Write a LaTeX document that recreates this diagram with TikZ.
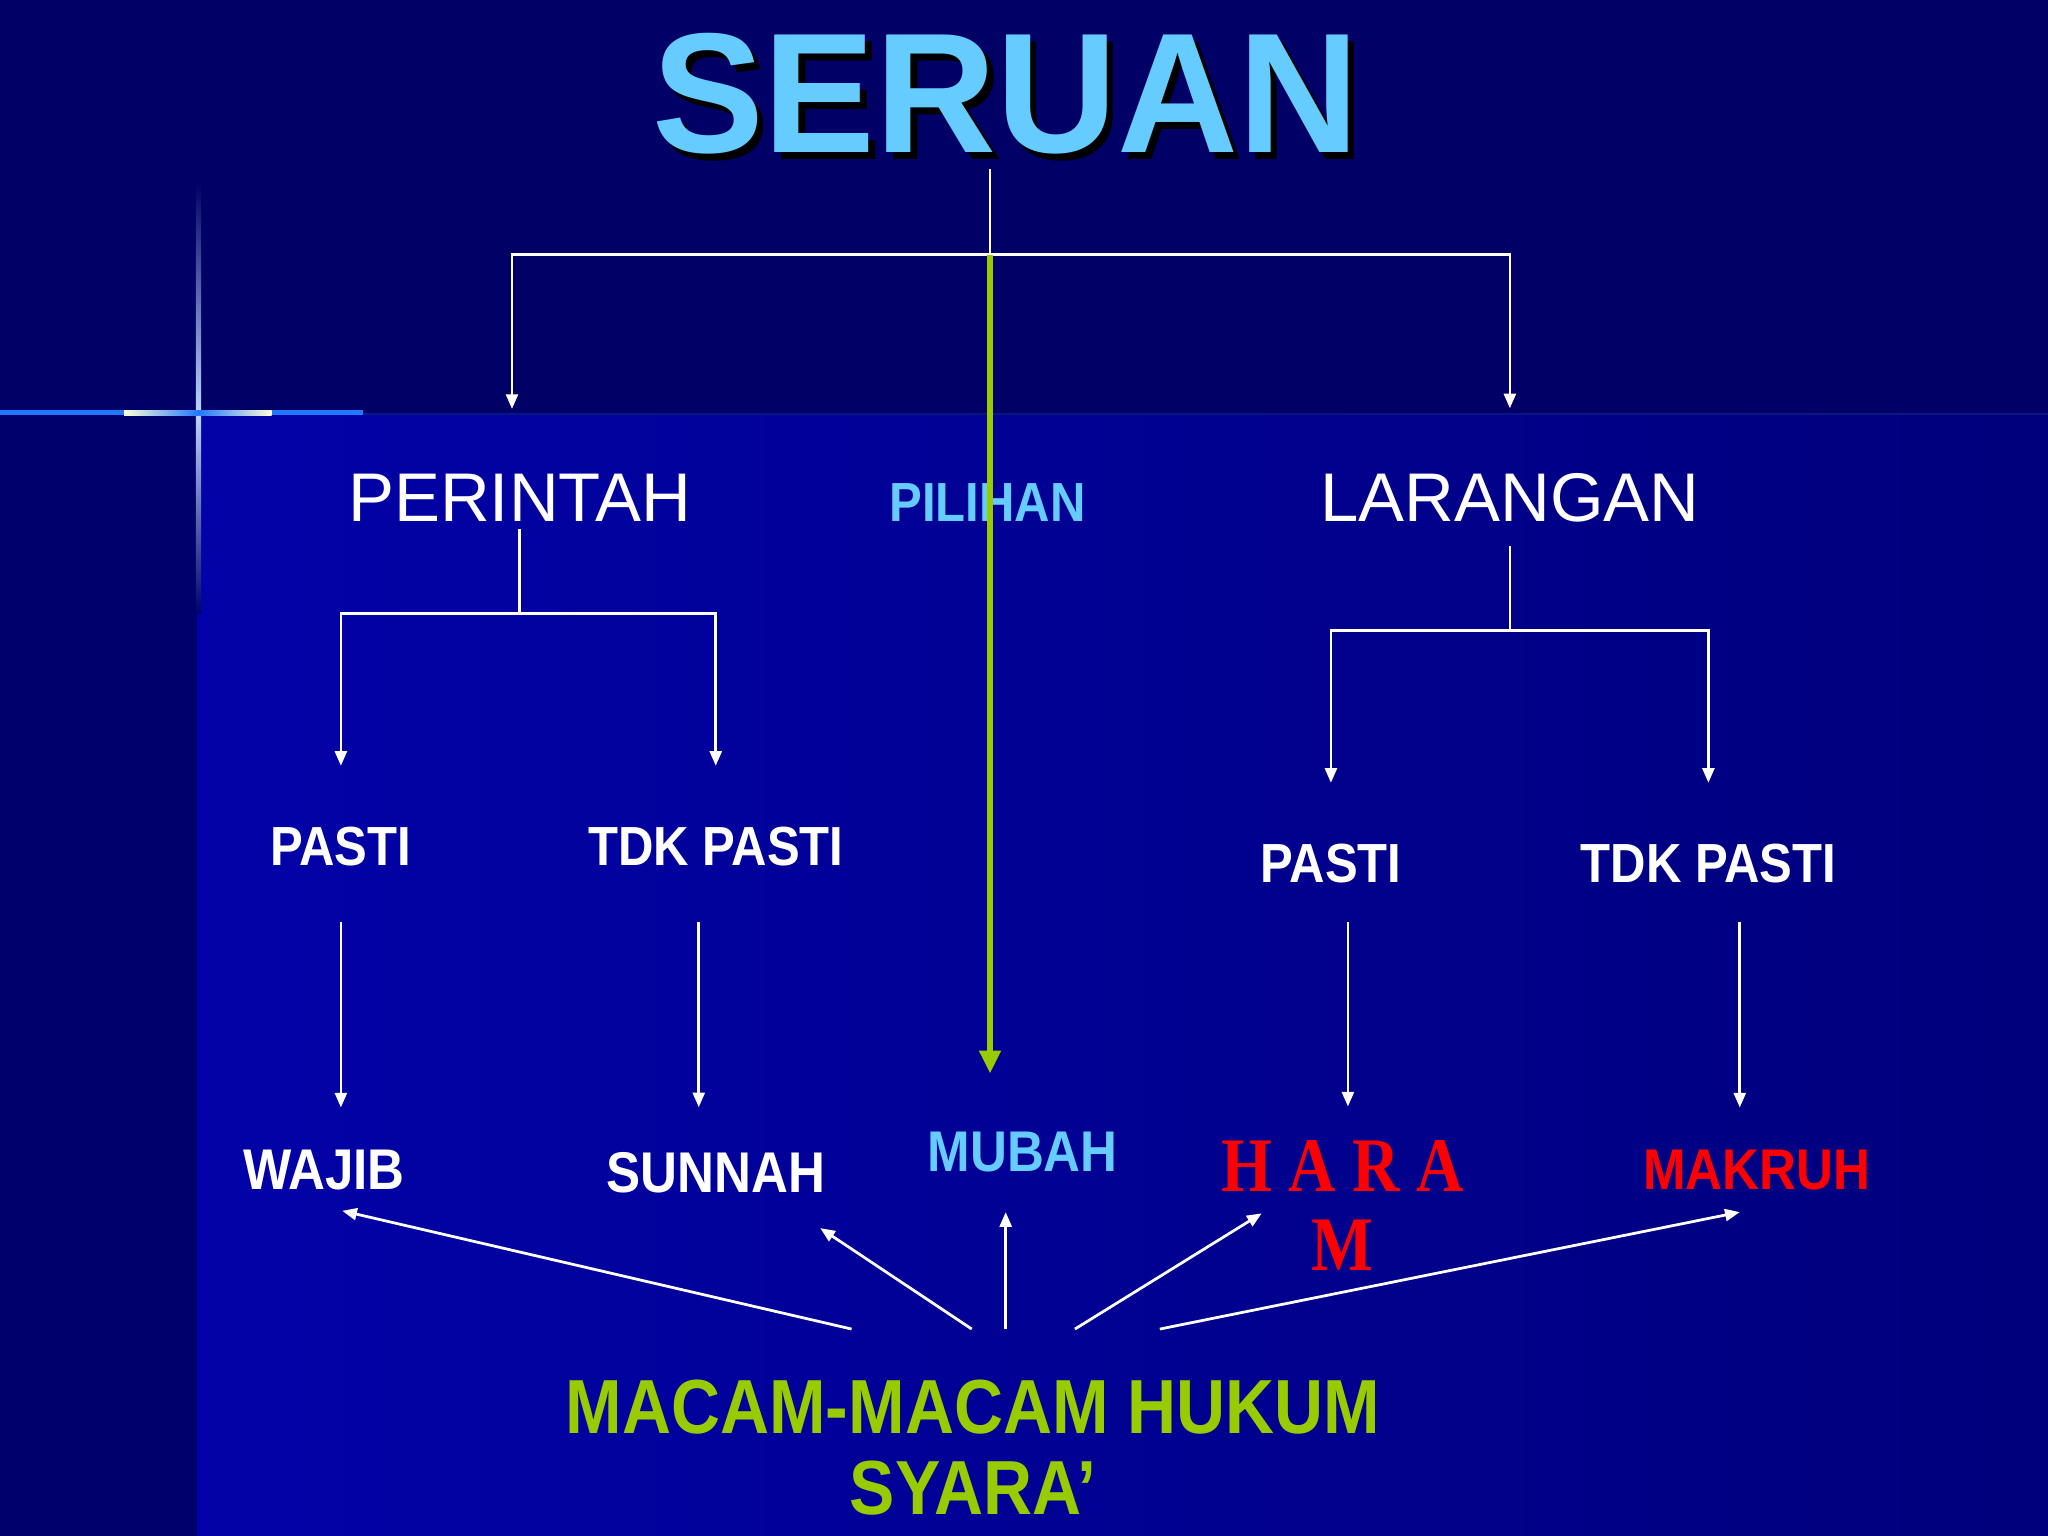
\documentclass[tikz,border=0pt]{standalone}
\usepackage{fontspec}
\setmainfont{Liberation Sans}
\newfontfamily\titlefont[FakeStretch=0.98]{Liberation Sans}
\newfontfamily\narrowfont[FakeStretch=0.89]{Liberation Sans}
\newfontfamily\sumfont[FakeStretch=0.885]{Liberation Sans}
\newfontfamily\haramfont[FakeStretch=0.85]{Liberation Serif}
\usetikzlibrary{
  positioning,
  arrows.meta
}
\definecolor{slidetop}{HTML}{000066}
\definecolor{panelleft}{HTML}{0202A8}
\definecolor{panelright}{HTML}{00007C}
\definecolor{stripdark}{HTML}{00006C}
\definecolor{skyblue}{HTML}{66CCFF}
\definecolor{limegreen}{HTML}{99CC00}
\definecolor{glowblue}{HTML}{2277FF}
\tikzset{
  every node/.style={inner sep=0pt},
  title/.style={text=skyblue, font=\titlefont\bfseries\fontsize{37.2}{40}\selectfont},
  branch/.style={text=white, font=\fontsize{15}{18}\selectfont},
  leaf/.style={text=white, font=\narrowfont\bfseries\fontsize{12}{14}\selectfont},
  result/.style={text=white, font=\narrowfont\bfseries\fontsize{12.5}{15}\selectfont},
  sumtext/.style={text=limegreen, align=center, font=\sumfont\bfseries\fontsize{16.7}{17.6}\selectfont},
  link/.style={draw=white, line width=0.6pt},
  arr/.style={link, -{Triangle[length=3.2pt,width=2.6pt]}},
  greenarr/.style={draw=limegreen, line width=1.5pt, -{Triangle[length=5pt,width=4.5pt]}}
}

\begin{document}
\begin{tikzpicture}[x=0.01cm, y=-0.01cm]
    \useasboundingbox (0,0) rectangle (1568,1176);
    \fill[slidetop] (0,0) rectangle (1568,1176);
    \fill[stripdark] (0,318) rectangle (151,1176);
    \shade[left color=panelleft, right color=panelright] (151,318) rectangle (1568,1176);
    \shade[top color=slidetop, bottom color=white!70!glowblue] (150,140) rectangle (154,316);
    \shade[top color=white!70!glowblue, bottom color=stripdark] (150,316) rectangle (154,470);
    \fill[glowblue] (0,314) rectangle (278,318);
    \shade[left color=white!85!yellow, right color=glowblue] (95,314) rectangle (152,318);
    \shade[left color=glowblue, right color=white!85!yellow] (152,314) rectangle (208,318);
    \fill[glowblue, opacity=0.2] (278,316) rectangle (1568,318);

    \node[title, text=black] (seruanshadow) at (775,77) {SERUAN};
    \node[title] (seruan) at (770,72) {SERUAN};
    \node[branch] (perintah) at (398,381) {PERINTAH};
    \node[leaf, text=skyblue] (pilihan) at (756,385) {PILIHAN};
    \node[branch] (larangan) at (1156,381) {LARANGAN};
    \node[leaf] (pastiA) at (261,648) {PASTI};
    \node[leaf] (tdkA) at (548,648) {TDK PASTI};
    \node[leaf] (pastiB) at (1019,661) {PASTI};
    \node[leaf] (tdkB) at (1308,661) {TDK PASTI};
    \node[result] (wajib) at (248,896) {WAJIB};
    \node[result] (sunnah) at (548,898) {SUNNAH};
    \node[result, text=skyblue] (mubah) at (783,882) {MUBAH};
    \node[text=red, align=center, font=\haramfont\bfseries\fontsize{16.8}{17.4}\selectfont] (haram) at (1028,923) {H A R A\\M};
    \node[result, text=red] (makruh) at (1345,896) {MAKRUH};
    \node[sumtext] (hukum) at (745,1108) {MACAM-MACAM HUKUM\\SYARA’};

    \coordinate (sfork) at (758,195);
    \coordinate (pfork) at (398,470);
    \coordinate (lfork) at (1156,483);

    \draw[link, shorten <=0.1cm] (seruan.south -| sfork) -- (sfork);
    \draw[arr, shorten >=0.49cm] (sfork) -| ([xshift=-0.06cm]perintah.north);
    \draw[arr, shorten >=0.49cm] (sfork) -| (larangan);
    \draw[link, shorten <=0.05cm] (perintah) -- (pfork);
    \draw[arr, shorten >=0.46cm] (pfork) -| (pastiA);
    \draw[arr, shorten >=0.46cm] (pfork) -| (tdkA);
    \draw[link, shorten <=0.18cm] (larangan) -- (lfork);
    \draw[arr, shorten >=0.46cm] (lfork) -| (pastiB);
    \draw[arr, shorten >=0.46cm] (lfork) -| (tdkB);
    \draw[greenarr, shorten >=0.44cm] (sfork) -- (sfork |- mubah.north);

    \draw[arr, shorten <=0.42cm, shorten >=0.32cm] (pastiA.south) -- (pastiA.south |- wajib.north);
    \draw[arr, shorten <=0.42cm, shorten >=0.34cm] ([xshift=-0.13cm]tdkA.south) -- ([xshift=-0.13cm]tdkA.south |- sunnah.north);
    \draw[arr, shorten <=0.29cm, shorten >=0.25cm] ([xshift=0.13cm]pastiB.south) -- ([xshift=0.13cm]pastiB.south |- haram.north);
    \draw[arr, shorten <=0.29cm, shorten >=0.32cm] ([xshift=0.24cm]tdkB.south) -- ([xshift=0.24cm]tdkB.south |- makruh.north);

    \draw[arr] ([shift={(-93,-38)}]hukum.north) -- ([shift={(14,15)}]wajib.south);
    \draw[arr] ([shift={(-1,-38)}]hukum.north) -- ([shift={(80,26)}]sunnah.south);
    \draw[arr] ([shift={(25,-38)}]hukum.north) -- ([shift={(-13,30)}]mubah.south);
    \draw[arr] ([shift={(78,-38)}]hukum.north) -- ([shift={(-62,6)}]haram.center);
    \draw[arr] ([shift={(143,-38)}]hukum.north) -- ([shift={(-13,16)}]makruh.south);
\end{tikzpicture}
\end{document}
